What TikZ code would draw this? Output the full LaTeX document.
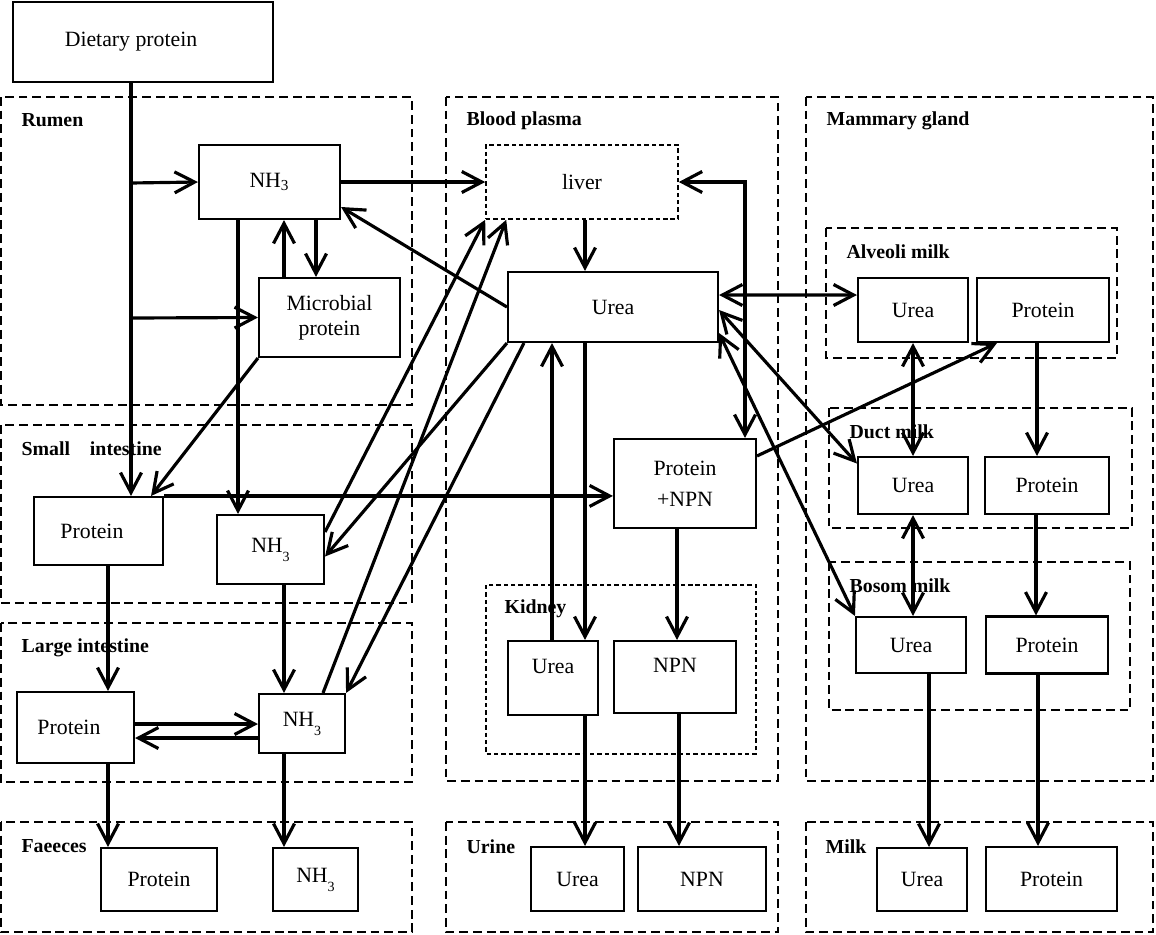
\documentclass[tikz,border=0pt]{standalone}
\usepackage{fontspec}
\setmainfont{Liberation Serif}
\usetikzlibrary{arrows.meta}

\begin{document}
\begin{tikzpicture}[x=0.02cm, y=-0.02cm, line width=1.8pt,
	>={Straight Barb[length=4mm,width=4.2mm]},
	box/.style={draw, line width=1.2pt, inner sep=0pt, align=center, font=\fontsize{12.4}{14.5}\selectfont},
	sz/.style 2 args={minimum width=#1*0.02cm, minimum height=#2*0.02cm},
	grp/.style={line width=1.3pt, dash pattern=on 5pt off 2.8pt},
	grpthin/.style={line width=0.9pt, dash pattern=on 2.5pt off 1.7pt},
	lbl/.style={anchor=west, inner sep=0pt, font=\fontsize{11.3}{13}\selectfont\bfseries}]
	\useasboundingbox (0,0) rectangle (1156,934);
	% compartments
	\draw[grp] (1,97) rectangle (412,405);
	\draw[grp] (1,425) rectangle (412,603);
	\draw[grp] (1,623) rectangle (412,782);
	\draw[grp] (1,822) rectangle (412,932);
	\draw[grp] (446,97) rectangle (778,781);
	\draw[grpthin] (486,585) rectangle (756,754);
	\draw[grp] (446,822) rectangle (778,932);
	\draw[grp] (806,97) rectangle (1153,781);
	\draw[grp] (826,228) rectangle (1117,358);
	\draw[grp] (829,408) rectangle (1132,528);
	\draw[grp] (829,562) rectangle (1130,710);
	\draw[grp] (806,822) rectangle (1153,932);
	\node[lbl] (lrumen) at (20,120) {Rumen};
	\node[lbl] (lsmall) at (20,449) {Small\quad intestine};
	\node[lbl] (llarge) at (20,648) {Large intestine};
	\node[lbl] (lfaeces) at (20,846) {Faeeces};
	\node[lbl] (lblood) at (465,121) {Blood plasma};
	\node[lbl] (lkidney) at (503,609) {Kidney};
	\node[lbl] (lurine) at (465,847) {Urine};
	\node[lbl] (lmammary) at (825,121) {Mammary gland};
	\node[lbl] (lalveoli) at (845,252) {Alveoli milk};
	\node[lbl] (lduct) at (848,432) {Duct milk};
	\node[lbl] (lbosom) at (848,586) {Bosom milk};
	\node[lbl] (lmilk) at (824,847) {Milk};
	% pools
	\node[box, sz={260}{80}] (diet) at (143,42) {Dietary protein\hspace{1.1em}};
	\node[box, sz={141}{74}] (rnh) at (269.5,182) {NH\textsubscript{3}};
	\node[box, sz={141}{79}] (mic) at (329.5,317.5) {Microbial\\protein};
	\node[box, sz={129}{68}] (sprot) at (98.5,531) {Protein\hspace{0.6em}};
	\node[box, sz={107}{69}] (snh) at (270.5,549.5) {NH\raisebox{-0.9ex}{\footnotesize 3}};
	\node[box, sz={117}{71}] (lprot) at (75.5,727.5) {Protein\hspace{0.6em}};
	\node[box, sz={86}{59}] (lnh) at (302,723.5) {NH\raisebox{-0.9ex}{\footnotesize 3}};
	\node[box, sz={116}{63}] (fprot) at (159,879.5) {Protein};
	\node[box, sz={85}{63}] (fnh) at (315.5,879.5) {NH\raisebox{-0.9ex}{\footnotesize 3}};
	\node[box, grpthin, sz={192}{74}] (liver) at (582,182) {liver};
	\node[box, sz={210}{70}] (urea) at (613,307) {Urea};
	\node[box, sz={142}{89}] (pnpn) at (685,483.5) {Protein\\[3pt]+NPN};
	\node[box, sz={90}{74}, text depth=0.48cm] (kurea) at (553,678) {Urea};
	\node[box, sz={122}{72}, text depth=0.48cm] (knpn) at (675,677) {NPN};
	\node[box, sz={93}{64}] (uurea) at (577.5,879) {Urea};
	\node[box, sz={128}{64}] (unpn) at (702,879) {NPN};
	\node[box, sz={110}{64}] (aurea) at (913,310) {Urea};
	\node[box, sz={132}{64}] (aprot) at (1043,310) {Protein};
	\node[box, sz={110}{57}] (durea) at (913,485.5) {Urea};
	\node[box, sz={124}{57}] (dprot) at (1047,485.5) {Protein};
	\node[box, sz={110}{56}] (burea) at (911,645) {Urea};
	\node[box, sz={122}{57}] (bprot) at (1047,645) {Protein};
	\node[box, sz={90}{63}] (murea) at (922,879.5) {Urea};
	\node[box, sz={131}{64}] (mprot) at (1051.5,879) {Protein};
	% flows
	\coordinate (j1) at (131,183);
	\coordinate (j2) at (131,318);
	\draw[->] (diet.south -| 131,0) -- (sprot.north -| 131,0);
	\draw[->] (j1) -- (rnh.west);
	\draw[->] (j2) -- (mic.west);
	\draw[->] (mic.north -| 284,0) -- (rnh.south -| 284,0);
	\draw[->] (rnh.south -| 316,0) -- (mic.north -| 316,0);
	\draw[->] (rnh.south -| 238,0) -- (snh.north -| 238,0);
	\draw[->] (rnh.east) -- (liver.west);
	\draw[->] (urea.west) -- ([yshift=-0.5cm]rnh.east);
	\draw[->] (mic.south west) -- ([xshift=-0.26cm]sprot.north east);
	\draw[->] (sprot.north east) -- (pnpn.west |- sprot.north);
	\draw[->] ([yshift=-0.36cm]snh.north east) -- (liver.south west);
	\draw[->] (urea.south west) -- ([yshift=-0.14cm]snh.east);
	\draw[->] ([xshift=0.42cm]lnh.north) -- ([xshift=0.42cm]liver.south west);
	\draw[->] ([xshift=0.34cm]urea.south west) -- (lnh.north east);
	\draw[->] (liver.south -| 585,0) -- (urea.north -| 585,0);
	\draw[<->] (liver.east) -| (pnpn.north -| 745,0);
	\draw[<->] ([yshift=0.24cm]urea.east) -- ([yshift=0.3cm]aurea.west);
	\draw[<->] ([yshift=-0.06cm]urea.east) -- ([yshift=0.44cm]durea.west);
	\draw[<->] ([yshift=-0.52cm]urea.east) -- (burea.north west);
	\draw[->] ([yshift=-0.36cm]pnpn.north east) -- ([xshift=0.42cm]aprot.south west);
	\draw[<->] (aurea.south) -- (durea.north);
	\draw[<->] (durea.south) -- (burea.north -| durea.south);
	\draw[->] (aprot.south -| 1037,0) -- (dprot.north -| 1037,0);
	\draw[->] (dprot.south -| 1036,0) -- (bprot.north -| 1036,0);
	\draw[->] (burea.south -| 929,0) -- (murea.north -| 929,0);
	\draw[->] (bprot.south -| 1038,0) -- (mprot.north -| 1038,0);
	\draw[->] (kurea.north -| 552,0) -- (urea.south -| 552,0);
	\draw[->] (urea.south -| 585,0) -- (kurea.north -| 585,0);
	\draw[->] (pnpn.south -| 677,0) -- (knpn.north -| 677,0);
	\draw[->] (kurea.south -| 585,0) -- (uurea.north -| 585,0);
	\draw[->] (knpn.south -| 679,0) -- (unpn.north -| 679,0);
	\draw[->] (sprot.south -| 108,0) -- (lprot.north -| 108,0);
	\draw[->] (snh.south -| 284,0) -- (lnh.north -| 284,0);
	\draw[->] (lprot.east |- 0,724) -- (lnh.west |- 0,724);
	\draw[->] (lnh.west |- 0,738) -- (lprot.east |- 0,738);
	\draw[->] (lprot.south -| 108,0) -- (fprot.north -| 108,0);
	\draw[->] (lnh.south -| 284,0) -- (fnh.north -| 284,0);
\end{tikzpicture}
\end{document}
